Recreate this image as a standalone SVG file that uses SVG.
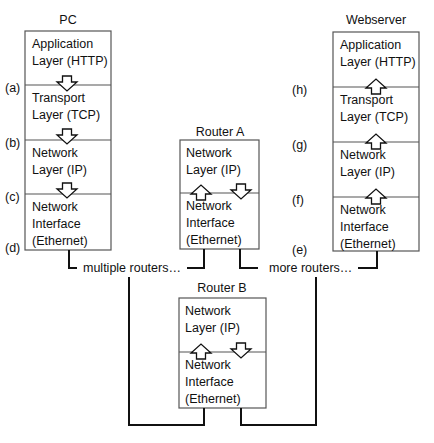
<svg xmlns="http://www.w3.org/2000/svg" width="434" height="443" viewBox="0 0 434 443">
<style>
text{font-family:"Liberation Sans",Arial,sans-serif;font-size:12.5px;fill:#111}
.t{text-anchor:middle}
.box{fill:#fff;stroke:#555;stroke-width:1.2}
.div{stroke:#555;stroke-width:1.2}
.arr{fill:#fff;stroke:#111;stroke-width:1.3;stroke-linejoin:miter}
.con{fill:none;stroke:#111;stroke-width:2}
</style>
<defs>
<path id="down" d="M-4.5,0 L4.5,0 L4.5,6 L10,6 L0,15 L-10,6 L-4.5,6 Z"/>
<path id="up" d="M-4.5,15 L4.5,15 L4.5,9 L10,9 L0,0 L-10,9 L-4.5,9 Z"/>
</defs>
<rect width="434" height="443" fill="#fff"/>

<g id="pc">
<text class="t" x="68" y="24">PC</text>
<rect class="box" x="25" y="31" width="86" height="219"/>
<line class="div" x1="25" y1="85" x2="111" y2="85"/>
<line class="div" x1="25" y1="140" x2="111" y2="140"/>
<line class="div" x1="25" y1="194" x2="111" y2="194"/>
<text x="32" y="48">Application</text>
<text x="32" y="65">Layer (HTTP)</text>
<text x="32" y="102">Transport</text>
<text x="32" y="119">Layer (TCP)</text>
<text x="32" y="157">Network</text>
<text x="32" y="174">Layer (IP)</text>
<text x="32" y="211">Network</text>
<text x="32" y="228">Interface</text>
<text x="32" y="245">(Ethernet)</text>
<use href="#down" class="arr" x="67" y="76"/>
<use href="#down" class="arr" x="67" y="129"/>
<use href="#down" class="arr" x="67" y="183"/>
<text x="5" y="92">(a)</text>
<text x="5" y="147">(b)</text>
<text x="5" y="201">(c)</text>
<text x="5" y="252">(d)</text>
</g>

<g id="routerA">
<text class="t" x="220" y="136">Router A</text>
<rect class="box" x="180" y="140" width="79" height="109"/>
<line class="div" x1="180" y1="193" x2="259" y2="193"/>
<text x="186" y="157">Network</text>
<text x="186" y="174">Layer (IP)</text>
<text x="186" y="210">Network</text>
<text x="186" y="227">Interface</text>
<text x="186" y="244">(Ethernet)</text>
<use href="#up" class="arr" x="201" y="185"/>
<use href="#down" class="arr" x="241" y="184"/>
</g>

<g id="webserver">
<text class="t" x="376" y="24">Webserver</text>
<rect class="box" x="333" y="32" width="86" height="219"/>
<line class="div" x1="333" y1="87" x2="419" y2="87"/>
<line class="div" x1="333" y1="142" x2="419" y2="142"/>
<line class="div" x1="333" y1="197" x2="419" y2="197"/>
<text x="340" y="49">Application</text>
<text x="340" y="66">Layer (HTTP)</text>
<text x="340" y="104">Transport</text>
<text x="340" y="121">Layer (TCP)</text>
<text x="340" y="159">Network</text>
<text x="340" y="176">Layer (IP)</text>
<text x="340" y="214">Network</text>
<text x="340" y="231">Interface</text>
<text x="340" y="248">(Ethernet)</text>
<use href="#up" class="arr" x="376" y="79"/>
<use href="#up" class="arr" x="376" y="134"/>
<use href="#up" class="arr" x="376" y="189"/>
<text x="292" y="94">(h)</text>
<text x="292" y="149">(g)</text>
<text x="292" y="204">(f)</text>
<text x="292" y="254">(e)</text>
</g>

<g id="routerB">
<text class="t" x="222" y="292">Router B</text>
<rect class="box" x="179" y="298" width="87" height="110"/>
<line class="div" x1="179" y1="352" x2="266" y2="352"/>
<text x="185" y="315">Network</text>
<text x="185" y="332">Layer (IP)</text>
<text x="185" y="369">Network</text>
<text x="185" y="386">Interface</text>
<text x="185" y="403">(Ethernet)</text>
<use href="#up" class="arr" x="201" y="344"/>
<use href="#down" class="arr" x="241" y="343"/>
</g>

<g id="connectors">
<polyline class="con" points="69,250 69,268 77,268"/>
<text x="83" y="272">multiple routers…</text>
<polyline class="con" points="187,268 204,268 204,249"/>
<polyline class="con" points="240,249 240,268 258,268"/>
<text x="269" y="272">more routers…</text>
<polyline class="con" points="358,268 377,268 377,251"/>
<polyline class="con" points="129,277 129,425 204,425 204,408"/>
<polyline class="con" points="241,408 241,425 316,425 316,277"/>
</g>
</svg>
